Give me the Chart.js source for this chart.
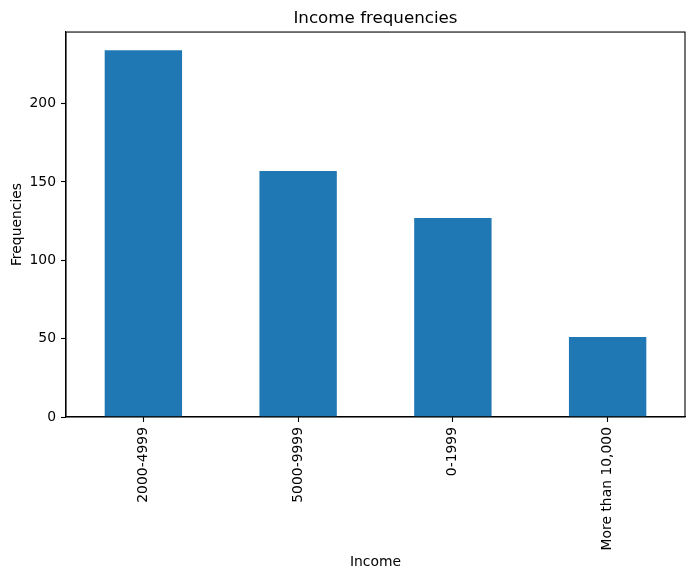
<!DOCTYPE html>
<html>
<head>
<meta charset="utf-8">
<script src="https://cdn.jsdelivr.net/npm/chart.js@4"></script>
<style>
  html, body { margin: 0; padding: 0; background: #ffffff; }
  #wrap { width: 695px; height: 579px; }
  canvas { display: block; }
</style>
</head>
<body>
<div id="wrap"><canvas id="c" width="695" height="579" style="width:695px;height:579px"></canvas></div>
<script>
const categories = ["2000-4999", "5000-9999", "0-1999", "More than 10,000"];
const frequencies = [234, 157, 127, 51];
const yTicks = [0, 50, 100, 150, 200];
const yMax = 245.7;

const FONT = "'DejaVu Sans', 'Liberation Sans', sans-serif";
Chart.defaults.font.family = FONT;
Chart.defaults.color = '#000000';

const frame = {
  id: 'frame',
  afterDatasetsDraw(chart) {
    const a = chart.chartArea, ctx = chart.ctx;
    ctx.save();
    ctx.strokeStyle = '#000000';
    ctx.lineWidth = 1.1;
    ctx.strokeRect(a.left, a.top, a.right - a.left, a.bottom - a.top);
    ctx.restore();
  }
};

new Chart(document.getElementById('c'), {
  type: 'bar',
  data: {
    labels: categories,
    datasets: [{
      label: 'Frequencies',
      data: frequencies,
      backgroundColor: '#1f77b4',
      borderWidth: 0,
      barPercentage: 0.5,
      categoryPercentage: 1.0
    }]
  },
  options: {
    responsive: false,
    animation: false,
    devicePixelRatio: 1,
    layout: { padding: { left: 0, right: 10, top: 0, bottom: 0 } },
    plugins: {
      legend: { display: false },
      tooltip: { enabled: false },
      title: {
        display: true,
        text: 'Income frequencies',
        fullSize: false,
        color: '#000000',
        font: { size: 16.7, weight: 'normal', family: FONT, lineHeight: 1.2 },
        padding: { top: 8.3, bottom: 3.7 }
      }
    },
    scales: {
      x: {
        type: 'category',
        offset: true,
        grid: {
          display: true,
          drawOnChartArea: false,
          drawTicks: true,
          tickLength: 5,
          tickColor: '#000000',
          tickWidth: 1.1,
          offset: false
        },
        border: { display: true, color: '#000000', width: 1.1 },
        ticks: {
          autoSkip: false,
          maxRotation: 90,
          minRotation: 90,
          padding: 5,
          color: '#000000',
          font: { size: 13.9, family: FONT }
        },
        title: {
          display: true,
          text: 'Income',
          color: '#000000',
          font: { size: 13.9, family: FONT, lineHeight: 1.2 },
          padding: { top: 0, bottom: 8.7 }
        },
        afterFit(s) { s.height = 162; }
      },
      y: {
        type: 'linear',
        min: 0,
        max: yMax,
        grid: {
          display: true,
          drawOnChartArea: false,
          drawTicks: true,
          tickLength: 5,
          tickColor: '#000000',
          tickWidth: 1.1
        },
        border: { display: true, color: '#000000', width: 1.1 },
        ticks: {
          padding: 5,
          color: '#000000',
          font: { size: 13.9, family: FONT }
        },
        afterBuildTicks(s) { s.ticks = yTicks.map(v => ({ value: v })); },
        title: {
          display: true,
          text: 'Frequencies',
          color: '#000000',
          font: { size: 13.9, family: FONT, lineHeight: 1.2 },
          padding: { top: 8.7, bottom: 0 }
        },
        afterFit(s) { s.width = 66; }
      }
    }
  },
  plugins: [frame]
});
</script>
</body>
</html>
